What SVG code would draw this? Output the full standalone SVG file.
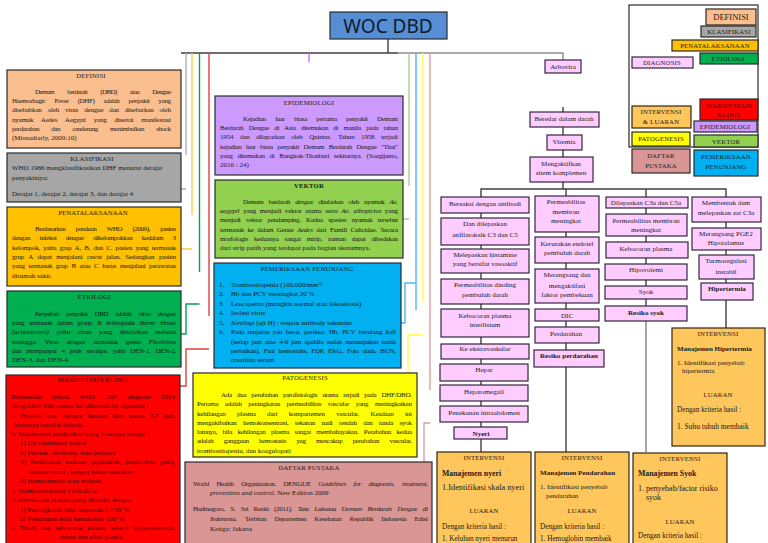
<svg xmlns="http://www.w3.org/2000/svg" width="768" height="543" viewBox="0 0 768 543">
<style>
text{font-family:"Liberation Serif","Times New Roman",serif;font-size:7px;fill:#1a1a1a}
.c{text-anchor:middle}
.b{font-weight:bold}
.i{font-style:italic}
.t{font-size:6.7px;letter-spacing:.2px}
.f{font-size:7.1px}
.r text{fill:#4a0000}
rect{stroke:#2a2a2a;stroke-width:1.2}
.pk{fill:#FFCCFF;stroke:#33263f}
.iv{fill:#FFC65C;stroke:#33260f}
.or{fill:#FBBF8F}.gy{fill:#A6A6A6}.go{fill:#FFC000}.gn{fill:#00B050}.rd{fill:#FF0000}
.pu{fill:#CC99FF}.lg{fill:#92D050}.bl{fill:#00B0F0}.ye{fill:#FFFF00}.ro{fill:#D99694}
#connectors path{fill:none;stroke-width:1.4}
#connectors .k{stroke:#404040}
</style>
<g id="connectors">
<path class="k" d="M388 39V53M181 53H398"/>
<path d="M398 53H563V60" stroke="#8c8c8c"/>
<path d="M186 53V155M181 189H186" stroke="#B0B0B0"/>
<path d="M192 53V215M181 249H192" stroke="#FFC84A"/>
<path d="M199.500 53V272M181 334H186V304H199.500" stroke="#00A050"/>
<path d="M209 53V316M180 386H186V349H209" stroke="#E04040"/>
<path d="M309 53V62" stroke="#CC66FF"/>
<path d="M409 53V186M403 219H409" stroke="#A9D18E"/>
<path d="M416 53V310M401 323H405V283H416" stroke="#4DB8E8"/>
<path d="M423 53V301M408 373V335H423" stroke="#FFFF33"/>
<path d="M430 53V390M424 462V423H430" stroke="#D9A0A0"/>
<path class="k" d="M563 107V112M563 127V135M563 150V157M563 182V189M481 197V189H726V197M566 189V196M646 189V197"/>
<path class="k" d="M481 213V218M481 245V249M481 273V279M481 304V309M481 337V344M481 359V364M481 381V385M481 401V406M481 422V427M481 439V452"/>
<path class="k" d="M566 232V237M566 263V269M566 303V309M566 321V327M566 343V350M566 367V452"/>
<path class="k" d="M646 208V214M646 236V242M646 258V264M646 280V286M646 299V306"/>
<path d="M646 321V452" stroke="#808080"/>
<path class="k" d="M726 222V228M726 250V255M726 279V283M726 300V328"/>
</g>
<g id="title"><rect x="330" y="12" width="117" height="27" fill="#558ED5"/><text x="388" y="33" class="c" style="font-family:'Noto Sans','Open Sans',sans-serif;font-size:19px;fill:#0f1a2a">WOC DBD</text></g>
<g id="definisi"><rect class="or" x="7" y="70" width="174" height="78"/>
<text class="c t" x="91" y="78">DEFINISI</text>
<text x="35" y="94" textLength="136" word-spacing="12">Demam berdarah (DBD) atau Dengue</text>
<text x="12" y="103" textLength="159" word-spacing="7.600">Haemorhagic Fever (DHF) adalah penyakit yang</text>
<text x="12" y="112" textLength="159" word-spacing="4.500">disebabkan oleh virus dengue dan disebarkan oleh</text>
<text x="12" y="122" textLength="159" word-spacing="6.500">nyamuk Aedes Aegypti yang disertai manifestasi</text>
<text x="12" y="131" textLength="159" word-spacing="10.900">perdarahan dan cenderung menimbulkan shock</text>
<text x="12" y="140">(Misnadiarly, 2009:10)</text></g>
<g id="klasifikasi"><rect class="gy" x="7" y="153" width="174" height="49"/>
<text class="c t" x="92" y="161">KLASIFIKASI</text>
<text x="12" y="170">WHO 1986 mengklasifikasikan DHF menurut derajat</text>
<text x="12" y="180">penyakitnya:</text>
<text x="12" y="196">Derajat 1, derajat 2, derajat 3, dan derajat 4</text></g>
<g id="penatalaksanaan"><rect class="go" x="7" y="207" width="174" height="79"/>
<text class="c t" x="93" y="215">PENATALAKSANAAN</text>
<text x="35" y="231" textLength="141" word-spacing="9">Berdasarkan panduan WHO (2009), pasien</text>
<text x="12" y="240" textLength="164" word-spacing="8">dengan infeksi dengue dikelompokkan kedalam 3</text>
<text x="12" y="250" textLength="164" word-spacing="1.700">kelompok, yaitu grup A, B, dan C. pasien yang termasuk</text>
<text x="12" y="259" textLength="164" word-spacing="3">grup A dapat menjalani rawat jalan. Sedangkan pasien</text>
<text x="12" y="268" textLength="164" word-spacing="2.200">yang termasuk grup B atau C harus menjalani perawatan</text>
<text x="12" y="278">dirumah sakit.</text></g>
<g id="etiologi"><rect class="gn" x="7" y="291" width="174" height="76"/>
<text class="c t" x="94" y="299">ETIOLOGI</text>
<text x="35" y="316" textLength="141" word-spacing="5.600">Penyebab penyakit DBD adalah virus <tspan class="i">dengue</tspan></text>
<text x="12" y="325" textLength="164" word-spacing="3.400">yang termasuk dalam group <tspan class="i">B Arthropoda Borne Viruse</tspan></text>
<text x="12" y="334" textLength="164" word-spacing="5.800"><tspan class="i">(arboviroses)</tspan> yaitu virus yang ditularkan melalui</text>
<text x="12" y="344" textLength="164" word-spacing="6.400">serangga. Virus <tspan class="i">dengue</tspan> termasuk genus <tspan class="i">Flavivirus</tspan></text>
<text x="12" y="353" textLength="164" word-spacing="3.400">dan mempunyai 4 jenis serotipe, yaitu DEN-1, DEN-2,</text>
<text x="12" y="362">DEN-3, dan DEN-4.</text></g>
<g id="manifestasi" class="r"><rect class="rd" x="6" y="375" width="174" height="170"/>
<text class="c t" x="93" y="382">MANIFESTASI KLINIS</text>
<text x="11" y="399" textLength="164" word-spacing="9">Berdasarkan kriteria WHO 1997 diagnosis DBD</text>
<text x="11" y="408">ditegakkan bila semua hal dibawah ini dipenuhi :</text>
<text x="11" y="418" textLength="164" word-spacing="3.600">a. Demam atau riwayat demam akut antara 2-7 hari,</text>
<text x="14" y="427">biasanya bersifat bifasik.</text>
<text x="11" y="436">b. Manifestasi perdarahan yang biasanya berupa :</text>
<text x="20" y="445">1) Uji tourniquet positif</text>
<text x="20" y="455">2) Petekie, ekimosis, atau purpura</text>
<text x="20" y="464" textLength="155" word-spacing="3">3) Perdarahan mukosa (epistaksis, perdarahan gusi),</text>
<text x="28" y="474">saluran cerna , tempat bekas suntikan</text>
<text x="20" y="483">4) Hematemesis atau melena</text>
<text x="11" y="493">c. Trombositopenia &lt;100.00/μl</text>
<text x="11" y="502">d. Kebocoran plasma yang ditandai dengan</text>
<text x="20" y="512">1) Peningkatan nilai hematokrit ≥20 %</text>
<text x="20" y="521">2) Penurunan nilai hematokrit ≥20 %</text>
<text x="11" y="530" textLength="164" word-spacing="3">e. Tanda dan kebocoran plasma seperti hipoproteinemi,</text>
<text x="60" y="539">asites dan efusi pleura</text></g>
<g id="epidemiologi"><rect class="pu" x="215" y="96" width="188" height="79"/>
<text class="c t" x="309" y="105">EPIDEMIOLOGI</text>
<text x="243" y="121" textLength="155" word-spacing="7.900">Kejadian luar biasa pertama penyakit Demam</text>
<text x="220" y="130" textLength="178" word-spacing="3.700">Berdarah Dengue di Asia ditemukan di manila pada tahun</text>
<text x="220" y="139" textLength="178" word-spacing="5">1954 dan dilaporkan oleh Quintas. Tahun 1958 terjadi</text>
<text x="220" y="149" textLength="178" word-spacing="3">kejadian luar biasa penyakit Demam Berdarah Dengue "Thai"</text>
<text x="220" y="158" textLength="178" word-spacing="3.200">yang ditemukan di Bangkok-Thonburi sekitarnya. (Soegijanto,</text>
<text x="220" y="167">2016 : 24)</text></g>
<g id="vektor"><rect class="lg" x="215" y="180" width="188" height="78"/>
<text class="c t b" x="309" y="188">VEKTOR</text>
<text x="243" y="204" textLength="155" word-spacing="3.800">Demam berdarah <tspan class="i">dengue</tspan> ditularkan oleh nyamuk <tspan class="i">Ae.</tspan></text>
<text x="220" y="213" textLength="178" word-spacing="2"><tspan class="i">aegypti</tspan> yang menjadi vektor utama serta <tspan class="i">Ae. albopictus</tspan> yang</text>
<text x="220" y="222" textLength="178" word-spacing="4">menjadi vektor pendamping. Kedua spesies nyamuk tersebut</text>
<text x="220" y="232" textLength="178" word-spacing="2">termasuk ke dalam Genus <tspan class="i">Aedes</tspan> dari Famili Culicidae. Secara</text>
<text x="220" y="241" textLength="178" word-spacing="4.500">morfologis keduanya sangat mirip, namun dapat dibedakan</text>
<text x="220" y="250">dari strip putih yang terdapat pada bagian skutumnya.</text></g>
<g id="pemeriksaan"><rect class="bl" x="214" y="263" width="187" height="105"/>
<text class="c t" x="307" y="271">PEMERIKSAAN PENUNJANG</text>
<text x="219" y="287">1.</text><text x="231" y="287">Trombositopenia (100.000/mm<tspan dy="-2" font-size="4.500">3)</tspan></text>
<text x="219" y="296">2.</text><text x="231" y="296">Hb dan PCV meningkat 20 %</text>
<text x="219" y="306">3.</text><text x="231" y="306">Leucopenia (mungkin normal atau lekositosis)</text>
<text x="219" y="315">4.</text><text x="231" y="315">Isolasi virus</text>
<text x="219" y="325">5.</text><text x="231" y="325"><tspan class="i">Serologi</tspan> (uji H) : respon antibody sekunder</text>
<text x="219" y="334">6.</text><text x="231" y="334" textLength="165" word-spacing="1.700">Pada renjatan yan berat, periksa: Hb, PCV berulang kali</text>
<text x="231" y="344" textLength="165" word-spacing="1.700">(setiap jam atau 4-6 jam apabila sudah menunjukan tanda</text>
<text x="231" y="353" textLength="165" word-spacing="2.400">perbaikan), Faal hemostatis, FDP, EKG, Foto dada, BUN,</text>
<text x="231" y="362">creatinin serum</text></g>
<g id="patogenesis"><rect class="ye" x="193" y="373" width="224" height="84"/>
<text class="c t" x="305" y="380">PATOGENESIS</text>
<text x="221" y="397" textLength="191" word-spacing="3.700">Ada dua perubahan patofisiologis utama terjadi pada DHF/DBD.</text>
<text x="197" y="406" textLength="215" word-spacing="5">Pertama adalah peningkatan permeabilitas vascular yang meningkatkan</text>
<text x="197" y="416" textLength="215" word-spacing="10">kehilangan plasma dari kompartemen vascular. Keadaan ini</text>
<text x="197" y="425" textLength="215" word-spacing="5">mengakibatkan hemokonsentrasi, tekanan nadi rendah dan tanda syok</text>
<text x="197" y="434" textLength="215" word-spacing="4">lainnya, bila kehilangan plasma sangat membahayakan. Perubahan kedua</text>
<text x="197" y="443" textLength="215" word-spacing="8.800">adalah gangguan hemostatis yag mencakup perubahan vascular,</text>
<text x="197" y="453">trombositopenia, dan koagulopati</text></g>
<g id="pustaka"><rect class="ro" x="185" y="462" width="247" height="83"/>
<text class="c t" x="309" y="470">DAFTAR PUSTAKA</text>
<text x="193" y="486" textLength="235" word-spacing="6">World Health Organization. DENGUE <tspan class="i">Guidelines for diagnosis, treatment,</tspan></text>
<text x="210" y="495"><tspan class="i">prevention and control.</tspan> New Edition 2009</text>
<text x="193" y="511" textLength="235" word-spacing="4">Hadinegoro, S. Sri Rezki (2011). <tspan class="i">Tata Laksana Demam Berdarah Dengue di</tspan></text>
<text x="210" y="521" textLength="218" word-spacing="6.500"><tspan class="i">Indonesia.</tspan> Terbitan Departemen Kesehatan Republik Indonesia Edisi</text>
<text x="210" y="531">Ketiga: Jakarta</text></g>
<g id="arbovira"><rect class="pk" x="545" y="60" width="36" height="13"/><text class="c f" x="563" y="69">Arbovira</text></g>
<g id="beredar"><rect class="pk" x="530" y="112" width="69" height="15"/><text class="c f" x="564" y="121">Beredar dalam darah</text></g>
<g id="viremia"><rect class="pk" x="547" y="135" width="35" height="15"/><text class="c f" x="564" y="144">Viremia</text></g>
<g id="komplemen"><rect class="pk" x="530" y="157" width="63" height="25"/><text class="c f" x="561" y="166">Mengaktifkan</text><text class="c f" x="561" y="175">sitem komplemen</text></g>
<g id="beraksi"><rect class="pk" x="441" y="197" width="88" height="16"/><text class="c f" x="485" y="206">Bereaksi dengan antibodi</text></g>
<g id="dilepaskan"><rect class="pk" x="441" y="218" width="88" height="27"/><text class="c f" x="485" y="226">Dan dilepaskan</text><text class="c f" x="485" y="237">anfilatoksik C3 dan C5</text></g>
<g id="histamine"><rect class="pk" x="441" y="249" width="88" height="24"/><text class="c f" x="485" y="257">Melepaskan histamine</text><text class="c f" x="485" y="266">yang bersifat vasoaktif</text></g>
<g id="dinding"><rect class="pk" x="441" y="279" width="88" height="25"/><text class="c f" x="485" y="287">Permeabilitas dinding</text><text class="c f" x="485" y="297">pembuluh darah</text></g>
<g id="interstisium"><rect class="pk" x="441" y="309" width="88" height="28"/><text class="c f" x="485" y="318">Kebocoran plasma</text><text class="c f" x="485" y="327">interlisium</text></g>
<g id="ekstravaskular"><rect class="pk" x="441" y="344" width="88" height="15"/><text class="c f" x="485" y="351">Ke ekstravaskular</text></g>
<g id="hepar"><rect class="pk" x="440" y="364" width="88" height="17"/><text class="c f" x="484" y="372">Hepar</text></g>
<g id="hepatomegali"><rect class="pk" x="440" y="385" width="88" height="16"/><text class="c f" x="484" y="394">Hepatomegali</text></g>
<g id="penekanan"><rect class="pk" x="440" y="406" width="88" height="16"/><text class="c f" x="484" y="415">Penekanan intraabdomen</text></g>
<g id="nyeri"><rect class="pk" x="454" y="427" width="53" height="12"/><text class="c f b" x="481" y="436">Nyeri</text></g>
<g id="membran"><rect class="pk" x="535" y="196" width="64" height="36"/><text class="c f" x="566" y="204">Permeabilitas</text><text class="c f" x="566" y="214">membran</text><text class="c f" x="566" y="223">meningkat</text></g>
<g id="kerusakan"><rect class="pk" x="535" y="237" width="64" height="26"/><text class="c f" x="567" y="246">Kerusakan endotel</text><text class="c f" x="567" y="255">pembuluh darah</text></g>
<g id="merangsang"><rect class="pk" x="535" y="269" width="64" height="34"/><text class="c f" x="567" y="277">Merangsang dan</text><text class="c f" x="567" y="288">mengaktifasi</text><text class="c f" x="567" y="297">faktor pembekuan</text></g>
<g id="dic"><rect class="pk" x="535" y="309" width="64" height="12"/><text class="c f" x="567" y="318">DIC</text></g>
<g id="perdarahan"><rect class="pk" x="535" y="327" width="64" height="16"/><text class="c f" x="566" y="336">Perdarahan</text></g>
<g id="resiko-perdarahan"><rect class="pk" x="534" y="350" width="70" height="17"/><text class="c f b" x="569" y="358">Resiko perdarahan</text></g>
<g id="c3a"><rect class="pk" x="606" y="197" width="82" height="11"/><text class="c f" x="646" y="205">Dilepaskan C3a dan C5a</text></g>
<g id="membran2"><rect class="pk" x="606" y="214" width="81" height="22"/><text class="c f" x="646" y="223">Permeabilitas membran</text><text class="c f" x="646" y="232">meningkat</text></g>
<g id="kebocoran"><rect class="pk" x="606" y="242" width="82" height="16"/><text class="c f" x="646" y="251">Kebocoran plasma</text></g>
<g id="hipovolemi"><rect class="pk" x="605" y="264" width="82" height="16"/><text class="c f" x="646" y="272">Hipovolemi</text></g>
<g id="syok"><rect class="pk" x="605" y="286" width="82" height="13"/><text class="c f" x="646" y="294">Syok</text></g>
<g id="resiko-syok"><rect class="pk" x="605" y="306" width="82" height="15"/><text class="c f b" x="646" y="315">Resiko syok</text></g>
<g id="membentuk"><rect class="pk" x="692" y="197" width="69" height="25"/><text class="c f" x="726" y="205">Membentuk dam</text><text class="c f" x="726" y="215">melepaskan zat C3a</text></g>
<g id="pge2"><rect class="pk" x="692" y="228" width="69" height="22"/><text class="c f" x="726" y="236">Merangsang PGE2</text><text class="c f" x="726" y="245">Hipotalamus</text></g>
<g id="termoregulasi"><rect class="pk" x="699" y="255" width="55" height="24"/><text class="c f" x="726" y="263">Turmoregulasi</text><text class="c f" x="726" y="274">instabil</text></g>
<g id="hipertermia"><rect class="pk" x="701" y="283" width="52" height="17"/><text class="c f b" x="727" y="291">Hipertermia</text></g>
<g id="intervensi-nyeri"><rect class="iv" x="437" y="452" width="94" height="93"/>
<text class="c t" x="484" y="460">INTERVENSI</text>
<text class="b" x="442" y="476" style="font-size:7.8px">Manajemen nyeri</text>
<text x="442" y="490" style="font-size:8.300px">1.Identifikasi skala nyeri</text>
<text class="c t" x="484" y="513">LUARAN</text>
<text x="442" y="529" style="font-size:7.200px">Dengan kriteria hasil :</text>
<text x="442" y="541" style="font-size:7.200px">1. Keluhan nyeri menurun</text></g>
<g id="intervensi-pendarahan"><rect class="iv" x="535" y="452" width="94" height="93"/>
<text class="c t" x="582" y="460">INTERVENSI</text>
<text class="b" x="540" y="475" style="font-size:7.100px">Manajemen Pendarahan</text>
<text x="540" y="489">1. Identifikasi penyebab</text>
<text x="546" y="498">pendarahan</text>
<text class="c t" x="582" y="513">LUARAN</text>
<text x="540" y="529" style="font-size:7.200px">Dengan kriteria hasil :</text>
<text x="540" y="541" style="font-size:7.200px">1. Hemoglobin membaik</text></g>
<g id="intervensi-syok"><rect class="iv" x="633" y="453" width="94" height="92"/>
<text class="c t" x="680" y="461">INTERVENSI</text>
<text class="b" x="638" y="476" style="font-size:7.800px">Manajemen Syok</text>
<text x="638" y="491" style="font-size:8px">1. penyebab/factor risiko</text>
<text x="646" y="500" style="font-size:8px">syok</text>
<text class="c t" x="680" y="524">LUARAN</text>
<text x="638" y="538" style="font-size:7.200px">Dengan kriteria hasil :</text></g>
<g id="intervensi-hipertermia"><rect class="iv" x="672" y="328" width="93" height="118"/>
<text class="c t" x="718" y="336">INTERVENSI</text>
<text class="b" x="677" y="351" style="font-size:7px">Manajemen Hipertermia</text>
<text x="677" y="365">1. Identifikasi penyebab</text>
<text x="682" y="373">hipertermia</text>
<text class="c t" x="718" y="397">LUARAN</text>
<text x="677" y="412" style="font-size:7.200px">Dengan kriteria hasil :</text>
<text x="677" y="429" style="font-size:7.500px">1.  Suhu tubuh membaik</text></g>
<g id="legend">
<rect x="629" y="5" width="129" height="142" fill="#fff"/>
<g id="l-definisi"><rect class="or" x="706" y="9" width="50" height="16"/><text class="c" x="731" y="20" style="font-size:8.500px">DEFINISI</text></g>
<g id="l-klasifikasi"><rect class="gy" x="701" y="26" width="55" height="11"/><text class="c t" x="729" y="34">KLASIFIKASI</text></g>
<g id="l-penatalaksanaan"><rect class="go" x="672" y="40" width="86" height="11"/><text class="c t" x="715" y="48">PENATALAKSANAAN</text></g>
<g id="l-etiologi"><rect class="gn" x="700" y="53" width="58" height="11"/><text class="c t" x="728" y="61">ETIOLOGI</text></g>
<g id="l-diagnosis"><rect class="pk" x="632" y="57" width="61" height="11"/><text class="c t" x="662" y="65">DIAGNOSIS</text></g>
<g id="l-manifestasi" class="r"><rect class="rd" x="700" y="99" width="58" height="21"/><text class="c t" x="729" y="108">MANIFESTASI</text><text class="c t" x="729" y="117">KLINIS</text></g>
<g id="l-intervensi"><rect class="iv" x="632" y="106" width="59" height="22"/><text class="c t" x="661" y="114">INTERVENSI</text><text class="c t" x="661" y="124">&amp; LUARAN</text></g>
<g id="l-epidemiologi"><rect class="pu" x="694" y="121" width="63" height="11"/><text class="c t" x="725" y="129">EPIDEMIOLOGI</text></g>
<g id="l-patogenesis"><rect class="ye" x="632" y="132" width="58" height="14"/><text class="c t" x="661" y="141">PATOGENESIS</text></g>
<g id="l-vektor"><rect class="lg" x="694" y="135" width="64" height="12"/><text class="c t" x="726" y="144">VEKTOR</text></g>
<g id="l-pustaka"><rect class="ro" x="632" y="149" width="58" height="24"/><text class="c t" x="661" y="158">DAFTAR</text><text class="c t" x="661" y="168">PUSTAKA</text></g>
<g id="l-pemeriksaan"><rect class="bl" x="694" y="150" width="64" height="26"/><text class="c t" x="726" y="159">PEMERIKSAAN</text><text class="c t" x="726" y="169">PENUNJANG</text></g>
</g>
</svg>
